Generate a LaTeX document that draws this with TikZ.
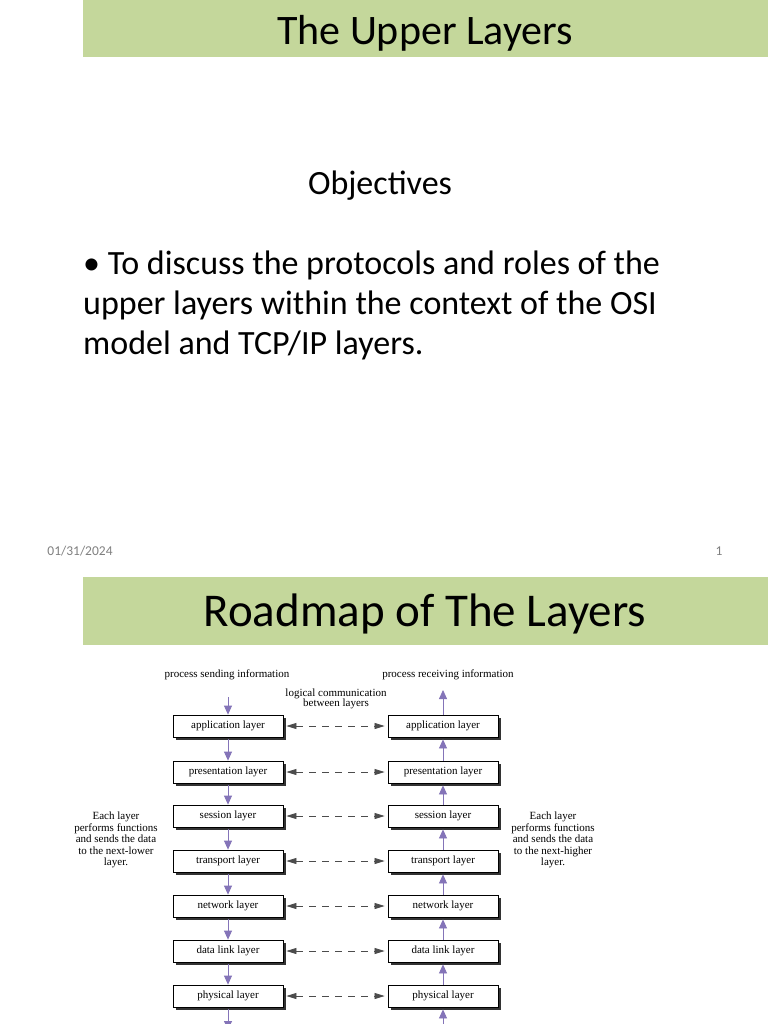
\documentclass[tikz,border=0pt]{standalone}
\usepackage{fontspec}
\setmainfont{Carlito}
\newfontfamily\diag{Liberation Serif}
\usetikzlibrary{arrows.meta}
\definecolor{bar}{HTML}{C4D79B}
\definecolor{purp}{HTML}{8474B8}
\begin{document}
\begin{tikzpicture}[x=1pt,y=-1pt,
 lay/.style={draw=black,line width=0.8pt,minimum width=110pt,minimum height=22pt,inner sep=0pt,font=\diag\fontsize{11}{11.5}\selectfont,fill=white},
 dtxt/.style={font=\diag\fontsize{11}{11.5}\selectfont,align=center,inner sep=0pt},
 flow/.style={draw=purp,line width=0.8pt,-{Triangle[length=9pt,width=8pt]},fill=purp},
 peer/.style={draw=black!70,dash pattern=on 7pt off 6pt,line width=0.7pt,{Triangle[length=10pt,width=6pt]}-{Triangle[length=10pt,width=6pt]}}]
\useasboundingbox (0,0) rectangle (768,1024);
\fill[white] (0,0) rectangle (768,1024);
\fill[bar] (83,0) rectangle (768,57);
\node[font=\fontsize{42}{46}\selectfont] (t1) at (425,33) {The Upper Layers};
\node[font=\fontsize{34}{38}\selectfont] (obj) at (380,186) {Objectives};
\node[anchor=north west,align=left,inner sep=0pt,font=\fontsize{34}{40}\selectfont] (bul) at (83,251) {\textbullet\ To discuss the protocols and roles of the\\ upper layers within the context of the OSI\\ model and TCP/IP layers.};
\node[text=gray,font=\fontsize{13.5}{15}\selectfont] (date) at (80,551) {01/31/2024};
\node[text=gray,font=\fontsize{13.5}{15}\selectfont] (pg) at (719,551) {1};
\fill[bar] (83,577) rectangle (768,645);
\node[font=\fontsize{47}{50}\selectfont] (t2) at (425,614) {Roadmap of The Layers};
\node[dtxt] (ps) at (227,675) {process sending information};
\node[dtxt] (pr) at (448,675) {process receiving information};
\node[dtxt] (lc) at (336,699) {logical communication\\[-1pt]between layers};
\node[dtxt] (el) at (116,840) {Each layer\\performs functions\\and sends the data\\to the next-lower\\layer.};
\node[dtxt] (er) at (553,840) {Each layer\\performs functions\\and sends the data\\to the next-higher\\layer.};
\foreach \n/\t/\y in {1/application layer/726,2/presentation layer/772,3/session layer/816,4/transport layer/861,5/network layer/906,6/data link layer/951,7/physical layer/996}{
 \fill[black!80] (176,\y-8) rectangle (286,\y+14);
 \fill[black!80] (391,\y-8) rectangle (501,\y+14);
 \node[lay] (L\n) at (228,\y) {\t};
 \node[lay] (R\n) at (443,\y) {\t};
 \draw[peer] ([xshift=3pt]L\n.east) -- ([xshift=-3pt]R\n.west);
}
\coordinate (ltop) at (228,697);
\coordinate (rtop) at (443,690);
\coordinate (lbot) at (228,1030);
\coordinate (rbot) at (443,1030);
\draw[flow] (ltop) -- (L1.north);
\draw[flow] (R1.north) -- (rtop);
\foreach \i/\j in {1/2,2/3,3/4,4/5,5/6,6/7}{
 \draw[flow] ([yshift=-2pt]L\i.south) -- (L\j.north);
 \draw[flow] (R\j.north) -- ([yshift=-2pt]R\i.south);
}
\draw[flow] ([yshift=-2pt]L7.south) -- (lbot);
\draw[flow] (rbot) -- ([yshift=-2pt]R7.south);
\end{tikzpicture}
\end{document}
